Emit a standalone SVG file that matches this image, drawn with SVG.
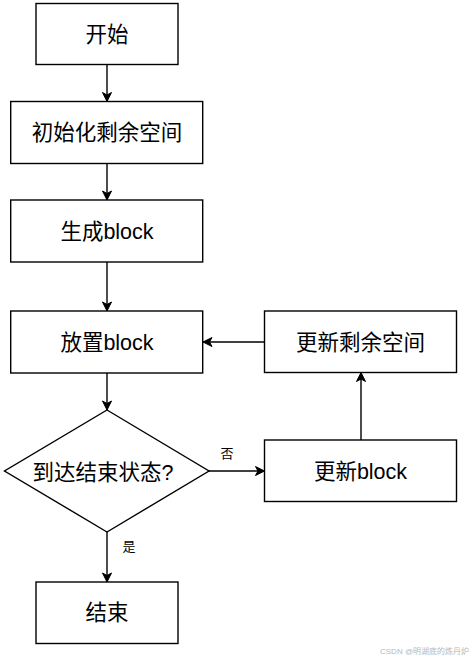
<svg xmlns="http://www.w3.org/2000/svg" width="474" height="661" viewBox="0 0 474 661">
<style>
.box{fill:#fff;stroke:#000;stroke-width:1.4}
.t{font-family:"Liberation Sans","Noto Sans CJK SC",sans-serif;font-size:21.5px;fill:#000;text-anchor:middle;dominant-baseline:central}
.lbl{font-family:"Liberation Sans","Noto Sans CJK SC",sans-serif;font-size:13px;fill:#000;text-anchor:middle;dominant-baseline:central}
.e{fill:none;stroke:#000;stroke-width:1.4;marker-end:url(#arr)}
.wm{font-family:"Liberation Sans","Noto Sans CJK SC",sans-serif;font-size:8px;fill:#b8b8b8;text-anchor:end}
</style>
<defs>
<marker id="arr" markerUnits="userSpaceOnUse" markerWidth="12" markerHeight="12" viewBox="0 0 12 12" refX="10" refY="6" orient="auto">
<path d="M1,1.5 L10,6 L1,10.5 L3.5,6 Z" fill="#000" stroke="#000" stroke-width="1"/>
</marker>
</defs>
<rect width="474" height="661" fill="#fff"/>
<g id="connectors">
<line class="e" x1="107" y1="64.5" x2="107" y2="101.5"/>
<line class="e" x1="107" y1="163.5" x2="107" y2="200"/>
<line class="e" x1="107" y1="262" x2="107" y2="311"/>
<line class="e" x1="107" y1="373" x2="107" y2="410"/>
<line class="e" x1="107" y1="532" x2="107" y2="582"/>
<text class="lbl" x="129" y="546">是</text>
<line class="e" x1="209" y1="471" x2="264.5" y2="471"/>
<text class="lbl" x="227" y="453">否</text>
<line class="e" x1="361" y1="440" x2="361" y2="372.5"/>
<line class="e" x1="264.5" y1="342" x2="203" y2="342"/>
</g>
<g id="start"><rect class="box" x="36" y="3.5" width="142" height="61"/><text class="t" x="107" y="35">开始</text></g>
<g id="init"><rect class="box" x="10.7" y="101.5" width="192" height="62"/><text class="t" x="107" y="133">初始化剩余空间</text></g>
<g id="gen"><rect class="box" x="10.7" y="200" width="192" height="62"/><text class="t" x="107" y="232">生成block</text></g>
<g id="place"><rect class="box" x="10.7" y="311" width="192" height="62"/><text class="t" x="107" y="343">放置block</text></g>
<g id="decision"><polygon class="box" points="107,410 209,471 107,532 4.5,471"/><text class="t" x="103" y="473">到达结束状态?</text></g>
<g id="end"><rect class="box" x="36" y="582" width="142" height="61.5"/><text class="t" x="107" y="613">结束</text></g>
<g id="updspace"><rect class="box" x="264.5" y="311" width="192" height="61.5"/><text class="t" x="360.5" y="343">更新剩余空间</text></g>
<g id="updblock"><rect class="box" x="264.5" y="440" width="192" height="61.5"/><text class="t" x="360.5" y="472">更新block</text></g>
<text class="wm" x="469" y="654">CSDN @明湖底的炼丹炉</text>
</svg>
